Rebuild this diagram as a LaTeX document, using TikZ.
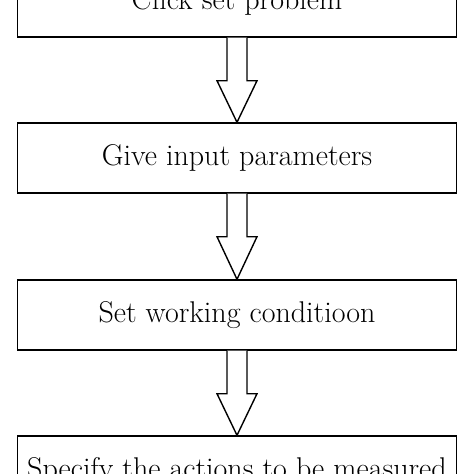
\documentclass[tikz,border=0pt]{standalone}
\usepackage{fontspec}
\setmainfont{Latin Modern Roman}
\usetikzlibrary{calc}
\begin{document}
\begin{tikzpicture}[x=1pt,y=1pt,
  stepbox/.style={draw=black,line width=1.4pt,minimum width=439pt,minimum height=70pt,
    inner sep=0pt,text height=18pt,text depth=4pt,font=\fontsize{30}{34}\selectfont},
  hollowarrow/.style={draw=black,line width=1.4pt,line join=miter,fill=white}]
\useasboundingbox (0,0) rectangle (474,-474);
\node[stepbox] (s1) at (237,-2) {Click set problem};
\node[stepbox] (s2) at (237,-158) {Give input parameters};
\node[stepbox] (s3) at (237,-315) {Set working conditioon};
\node[stepbox] (s4) at (237,-471) {Specify the actions to be measured};
\foreach \a/\b in {s1/s2,s2/s3,s3/s4}{
  \draw[hollowarrow] ($(\a.south)+(-10,0)$) -- ++(0,-43) -- ++(-10,0)
    -- (\b.north) -- ($(\a.south)+(20,-43)$) -- ++(-10,0) -- ($(\a.south)+(10,0)$);
}
\end{tikzpicture}
\end{document}
